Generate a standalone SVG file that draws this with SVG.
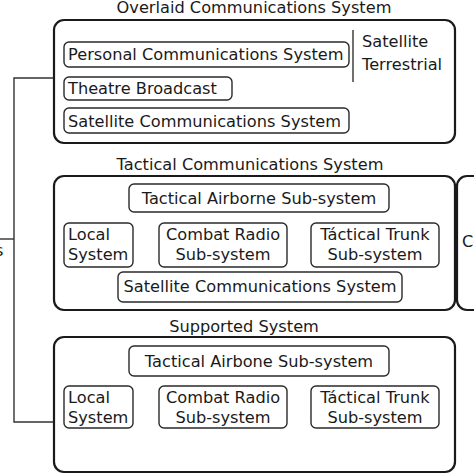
<svg xmlns="http://www.w3.org/2000/svg" width="474" height="474" viewBox="0 0 474 474">
<style>
.outer{fill:#fff;stroke:#1a1a1a;stroke-width:2.2}
.inner{fill:#fff;stroke:#2a2a2a;stroke-width:1.4}
.t{font-family:"DejaVu Sans",Verdana,sans-serif;font-size:16.2px;fill:#1a1a1a}
.c{text-anchor:middle}
.conn{fill:none;stroke:#333;stroke-width:1.4}
</style>
<rect width="474" height="474" fill="#fff"/>
<text class="t" x="3.5" y="256" text-anchor="end">s</text>
<g id="overlaid">
<text class="t c" x="254" y="13">Overlaid Communications System</text>
<rect class="outer" x="54" y="20" width="401" height="123" rx="10"/>
<g id="ov-pcs"><rect class="inner" x="64" y="42" width="285" height="25" rx="5"/><text class="t" x="68" y="60">Personal Communications System</text></g>
<g id="ov-tb"><rect class="inner" x="64" y="77" width="168" height="23" rx="5"/><text class="t" x="68" y="94">Theatre Broadcast</text></g>
<g id="ov-scs"><rect class="inner" x="64" y="108" width="285" height="25" rx="5"/><text class="t" x="68" y="127">Satellite Communications System</text></g>
<text class="t" x="362" y="47">Satellite</text>
<text class="t" x="362" y="70">Terrestrial</text>
</g>
<g id="tactical">
<text class="t c" x="250" y="170">Tactical Communications System</text>
<rect class="outer" x="54" y="176" width="401" height="134" rx="10"/>
<g id="tc-tas"><rect class="inner" x="129" y="184" width="260" height="28" rx="5"/><text class="t c" x="259" y="204">Tactical Airborne Sub-system</text></g>
<g id="tc-local"><rect class="inner" x="64" y="223" width="69" height="44" rx="5"/><text class="t" x="68" y="240">Local</text><text class="t" x="68" y="260">System</text></g>
<g id="tc-crs"><rect class="inner" x="159" y="223" width="128" height="44" rx="5"/><text class="t c" x="223" y="240">Combat Radio</text><text class="t c" x="223" y="260">Sub-system</text></g>
<g id="tc-tts"><rect class="inner" x="311" y="223" width="128" height="44" rx="5"/><text class="t c" x="375" y="240">Táctical Trunk</text><text class="t c" x="375" y="260">Sub-system</text></g>
<g id="tc-scs"><rect class="inner" x="118" y="272" width="284" height="30" rx="5"/><text class="t c" x="260" y="292">Satellite Communications System</text></g>
</g>
<g id="right-box">
<rect class="outer" x="457" y="176" width="40" height="134" rx="10"/>
<text class="t" x="462" y="247">Co</text>
</g>
<g id="supported">
<text class="t c" x="244" y="332">Supported System</text>
<rect class="outer" x="54" y="337" width="401" height="135" rx="10"/>
<g id="sp-tas"><rect class="inner" x="129" y="346" width="260" height="30" rx="5"/><text class="t c" x="259" y="367">Tactical Airbone Sub-system</text></g>
<g id="sp-local"><rect class="inner" x="64" y="386" width="69" height="42" rx="5"/><text class="t" x="68" y="403">Local</text><text class="t" x="68" y="423">System</text></g>
<g id="sp-crs"><rect class="inner" x="159" y="386" width="128" height="42" rx="5"/><text class="t c" x="223" y="403">Combat Radio</text><text class="t c" x="223" y="423">Sub-system</text></g>
<g id="sp-tts"><rect class="inner" x="311" y="386" width="128" height="42" rx="5"/><text class="t c" x="375" y="403">Táctical Trunk</text><text class="t c" x="375" y="423">Sub-system</text></g>
</g>
<g id="connectors">
<polyline class="conn" points="53,78 14,78 14,422 53,422"/>
<line class="conn" x1="0" y1="239" x2="14" y2="239"/>
<line class="conn" x1="353" y1="30" x2="353" y2="82"/>
</g>
</svg>
